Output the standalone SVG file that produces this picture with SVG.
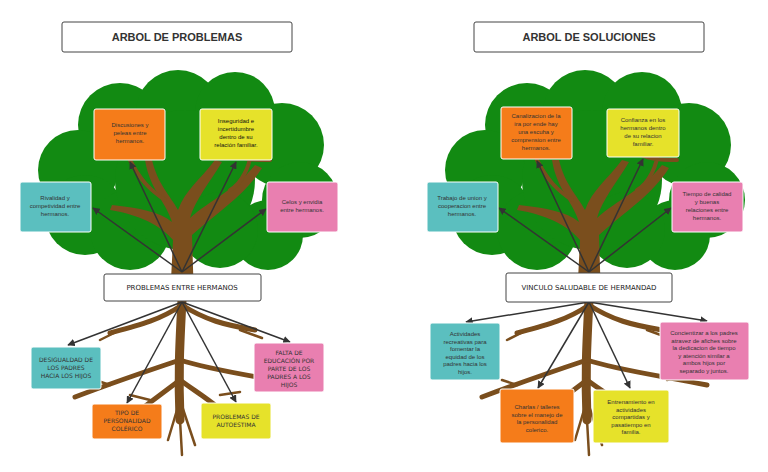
<svg xmlns="http://www.w3.org/2000/svg" width="768" height="472" viewBox="0 0 768 472">
<style>
.t{font-family:"Liberation Sans",Arial,sans-serif;font-size:6px;fill:#333;text-anchor:middle}
.u{font-family:"DejaVu Sans",sans-serif;font-size:6px;fill:#333;text-anchor:middle}
.h{font-family:"Liberation Sans",Arial,sans-serif;font-size:11px;font-weight:bold;fill:#333;text-anchor:middle}
.c{font-family:"DejaVu Sans",sans-serif;font-size:7px;fill:#222;text-anchor:middle}
.bx{stroke:#fff;stroke-width:1}
.tl{fill:#fff;stroke:#444;stroke-width:1}
.ln{stroke:#333;stroke-width:1.5;fill:none;marker-end:url(#a)}
.br{stroke:#7a4e1d;fill:none;stroke-linecap:round}
</style>
<defs>
<marker id="a" viewBox="0 0 10 10" refX="9" refY="5" markerWidth="5" markerHeight="5" orient="auto"><path d="M0,0L10,5L0,10z" fill="#333"/></marker>
<g id="tree">
<g fill="#128a12">
<circle cx="120" cy="125" r="42"/><circle cx="178" cy="112" r="42"/><circle cx="235" cy="112" r="40"/><circle cx="282" cy="145" r="42"/><circle cx="300" cy="200" r="38"/><circle cx="268" cy="235" r="35"/><circle cx="78" cy="170" r="40"/><circle cx="85" cy="215" r="40"/><circle cx="130" cy="230" r="40"/><circle cx="185" cy="180" r="70"/><circle cx="220" cy="230" r="38"/>
</g>
<path d="M170,300 L173,240 C160,225 140,215 110,210 L112,205 C140,208 160,212 172,222 C165,200 150,190 145,160 L152,160 C158,185 170,195 178,210 C185,190 200,180 215,160 L222,162 C210,182 195,200 190,218 C210,200 235,190 255,165 L262,168 C245,195 220,210 192,235 L194,300 Z" fill="#7a4e1d"/>
<path class="br" stroke-width="4" d="M130,160 C140,180 150,190 165,200 M250,150 C252,165 240,185 230,190 M225,150 C240,160 255,160 270,160"/>
<g class="br">
<path stroke-width="9" d="M182,300 C180,340 178,370 180,420"/>
<path stroke-width="5" d="M182,305 C160,320 140,325 110,333 M182,305 C205,320 225,325 255,330 M180,360 C150,370 120,380 75,397 M180,360 C210,370 250,375 300,385 M180,380 C160,395 140,410 120,425 M180,380 C200,395 220,405 240,430"/>
<path stroke-width="2.5" d="M120,330 L100,340 M240,330 L262,338 M180,400 L168,440 M180,400 L195,445 M110,385 L95,380 M260,380 L280,375 M150,400 L130,395 M220,395 L240,392 M180,420 L182,455"/>
</g>
</g>
</defs>
<use href="#tree"/>
<use href="#tree" transform="translate(407,0)"/>

<g id="title-left"><rect class="tl" x="62" y="22" width="230" height="30" rx="2"/><text class="h" x="177" y="41">ARBOL DE PROBLEMAS</text></g>
<g id="title-right"><rect class="tl" x="474" y="22" width="230" height="30" rx="2"/><text class="h" x="589" y="41">ARBOL DE SOLUCIONES</text></g>

<g id="connectors">
<path class="ln" d="M182,272L93,208"/><path class="ln" d="M182,272L130,162"/><path class="ln" d="M182,272L236,162"/><path class="ln" d="M182,272L266,209"/>
<path class="ln" d="M182,302L68,345"/><path class="ln" d="M182,302L290,342"/><path class="ln" d="M182,302L127,403"/><path class="ln" d="M182,302L236,402"/>
<path class="ln" d="M589,272L499,208"/><path class="ln" d="M589,272L537,161"/><path class="ln" d="M589,272L643,159"/><path class="ln" d="M589,272L671,208"/>
<path class="ln" d="M589,302L466,322"/><path class="ln" d="M589,302L707,321"/><path class="ln" d="M589,302L538,388"/><path class="ln" d="M589,302L630,388"/>
</g>

<g id="n-central-l"><rect class="tl" x="104" y="274" width="157" height="27" rx="2"/><text class="c" x="182" y="290">PROBLEMAS ENTRE HERMANOS</text></g>
<g id="n-central-r"><rect class="tl" x="506" y="273" width="166" height="29" rx="2"/><text class="c" x="589" y="290">VINCULO SALUDABLE DE HERMANDAD</text></g>

<g id="n-rivalidad"><rect class="bx" x="20" y="182" width="71" height="50" rx="2" fill="#5bbfbf"/><text class="t" x="55" y="200">Rivalidad y<tspan x="55" dy="8">competividad entre</tspan><tspan x="55" dy="8">hermanos.</tspan></text></g>
<g id="n-discusiones"><rect class="bx" x="94" y="109" width="71" height="51" rx="2" fill="#f57c1a"/><text class="t" x="130" y="127">Discusiones y<tspan x="130" dy="8">peleas  entre</tspan><tspan x="130" dy="8">hermanos.</tspan></text></g>
<g id="n-inseguridad"><rect class="bx" x="200" y="109" width="72" height="51" rx="2" fill="#e6e22a"/><text class="t" x="236" y="123" style="fill:#111">Inseguridad e<tspan x="236" dy="8">incertidumbre</tspan><tspan x="236" dy="8">dentro de su</tspan><tspan x="236" dy="8">relación familiar.</tspan></text></g>
<g id="n-celos"><rect class="bx" x="267" y="182" width="71" height="50" rx="2" fill="#e97fb0"/><text class="t" x="302" y="204">Celos y envidia<tspan x="302" dy="8">entre hermanos.</tspan></text></g>

<g id="n-desigualdad"><rect class="bx" x="31" y="347" width="70" height="42" rx="2" fill="#5bbfbf"/><text class="u" x="66" y="362">DESIGUALDAD DE<tspan x="66" dy="8">LOS PADRES</tspan><tspan x="66" dy="8">HACIA LOS HIJOS</tspan></text></g>
<g id="n-falta"><rect class="bx" x="254" y="343" width="70" height="49" rx="2" fill="#e97fb0"/><text class="u" x="289" y="355">FALTA DE<tspan x="289" dy="8">EDUCACIÓN POR</tspan><tspan x="289" dy="8">PARTE DE LOS</tspan><tspan x="289" dy="8">PADRES A LOS</tspan><tspan x="289" dy="8">HIJOS</tspan></text></g>
<g id="n-tipo"><rect class="bx" x="92" y="404" width="70" height="35" rx="2" fill="#f57c1a"/><text class="u" x="127" y="415">TIPO DE<tspan x="127" dy="8">PERSONALIDAD</tspan><tspan x="127" dy="8">COLÉRICO</tspan></text></g>
<g id="n-autoestima"><rect class="bx" x="201" y="403" width="70" height="36" rx="2" fill="#e6e22a"/><text class="u" x="236" y="419">PROBLEMAS DE<tspan x="236" dy="8">AUTOESTIMA</tspan></text></g>

<g id="n-trabajo"><rect class="bx" x="427" y="182" width="71" height="50" rx="2" fill="#5bbfbf"/><text class="t" x="462" y="200">Trabajo de union y<tspan x="462" dy="8">cooperacion entre</tspan><tspan x="462" dy="8">hermanos.</tspan></text></g>
<g id="n-canalizacion"><rect class="bx" x="501" y="107" width="71" height="52" rx="2" fill="#f57c1a"/><text class="t" x="536" y="118">Canalizacion de la<tspan x="536" dy="8">ira por ende hay</tspan><tspan x="536" dy="8">una escuha y</tspan><tspan x="536" dy="8">comprension entre</tspan><tspan x="536" dy="8">hermanos.</tspan></text></g>
<g id="n-confianza"><rect class="bx" x="607" y="109" width="72" height="48" rx="2" fill="#e6e22a"/><text class="t" x="643" y="122">Confianza en los<tspan x="643" dy="8">hermanos dentro</tspan><tspan x="643" dy="8">de su relacion</tspan><tspan x="643" dy="8">familiar.</tspan></text></g>
<g id="n-tiempo"><rect class="bx" x="672" y="182" width="71" height="50" rx="2" fill="#e97fb0"/><text class="t" x="707" y="196">Tiempo de calidad<tspan x="707" dy="8">y buenas</tspan><tspan x="707" dy="8">relaciones entre</tspan><tspan x="707" dy="8">hermanos.</tspan></text></g>

<g id="n-actividades"><rect class="bx" x="430" y="323" width="70" height="57" rx="2" fill="#5bbfbf"/><text class="t" x="465" y="336">Actividades<tspan x="465" dy="7.5">recreativas para</tspan><tspan x="465" dy="7.5">fomentar la</tspan><tspan x="465" dy="7.5">equidad de los</tspan><tspan x="465" dy="7.5">padres hacia los</tspan><tspan x="465" dy="7.5">hijos.</tspan></text></g>
<g id="n-concientizar"><rect class="bx" x="660" y="322" width="89" height="58" rx="2" fill="#e97fb0"/><text class="t" x="704" y="335">Concientizar a los padres<tspan x="704" dy="7.5">atravez de afiches sobre</tspan><tspan x="704" dy="7.5">la dedicacion de tiempo</tspan><tspan x="704" dy="7.5">y atención similar a</tspan><tspan x="704" dy="7.5">ambos hijos por</tspan><tspan x="704" dy="7.5">separado y juntos.</tspan></text></g>
<g id="n-charlas"><rect class="bx" x="500" y="389" width="74" height="54" rx="2" fill="#f57c1a"/><text class="t" x="537" y="409">Charlas / talleres<tspan x="537" dy="7.5">sobre el manejo de</tspan><tspan x="537" dy="7.5">la personalidad</tspan><tspan x="537" dy="7.5">colerico.</tspan></text></g>
<g id="n-entrenamiento"><rect class="bx" x="593" y="390" width="76" height="53" rx="2" fill="#e6e22a"/><text class="t" x="631" y="404">Entrenamiento en<tspan x="631" dy="7.5">actividades</tspan><tspan x="631" dy="7.5">compartidas y</tspan><tspan x="631" dy="7.5">pasatiempo en</tspan><tspan x="631" dy="7.5">familia.</tspan></text></g>
</svg>
